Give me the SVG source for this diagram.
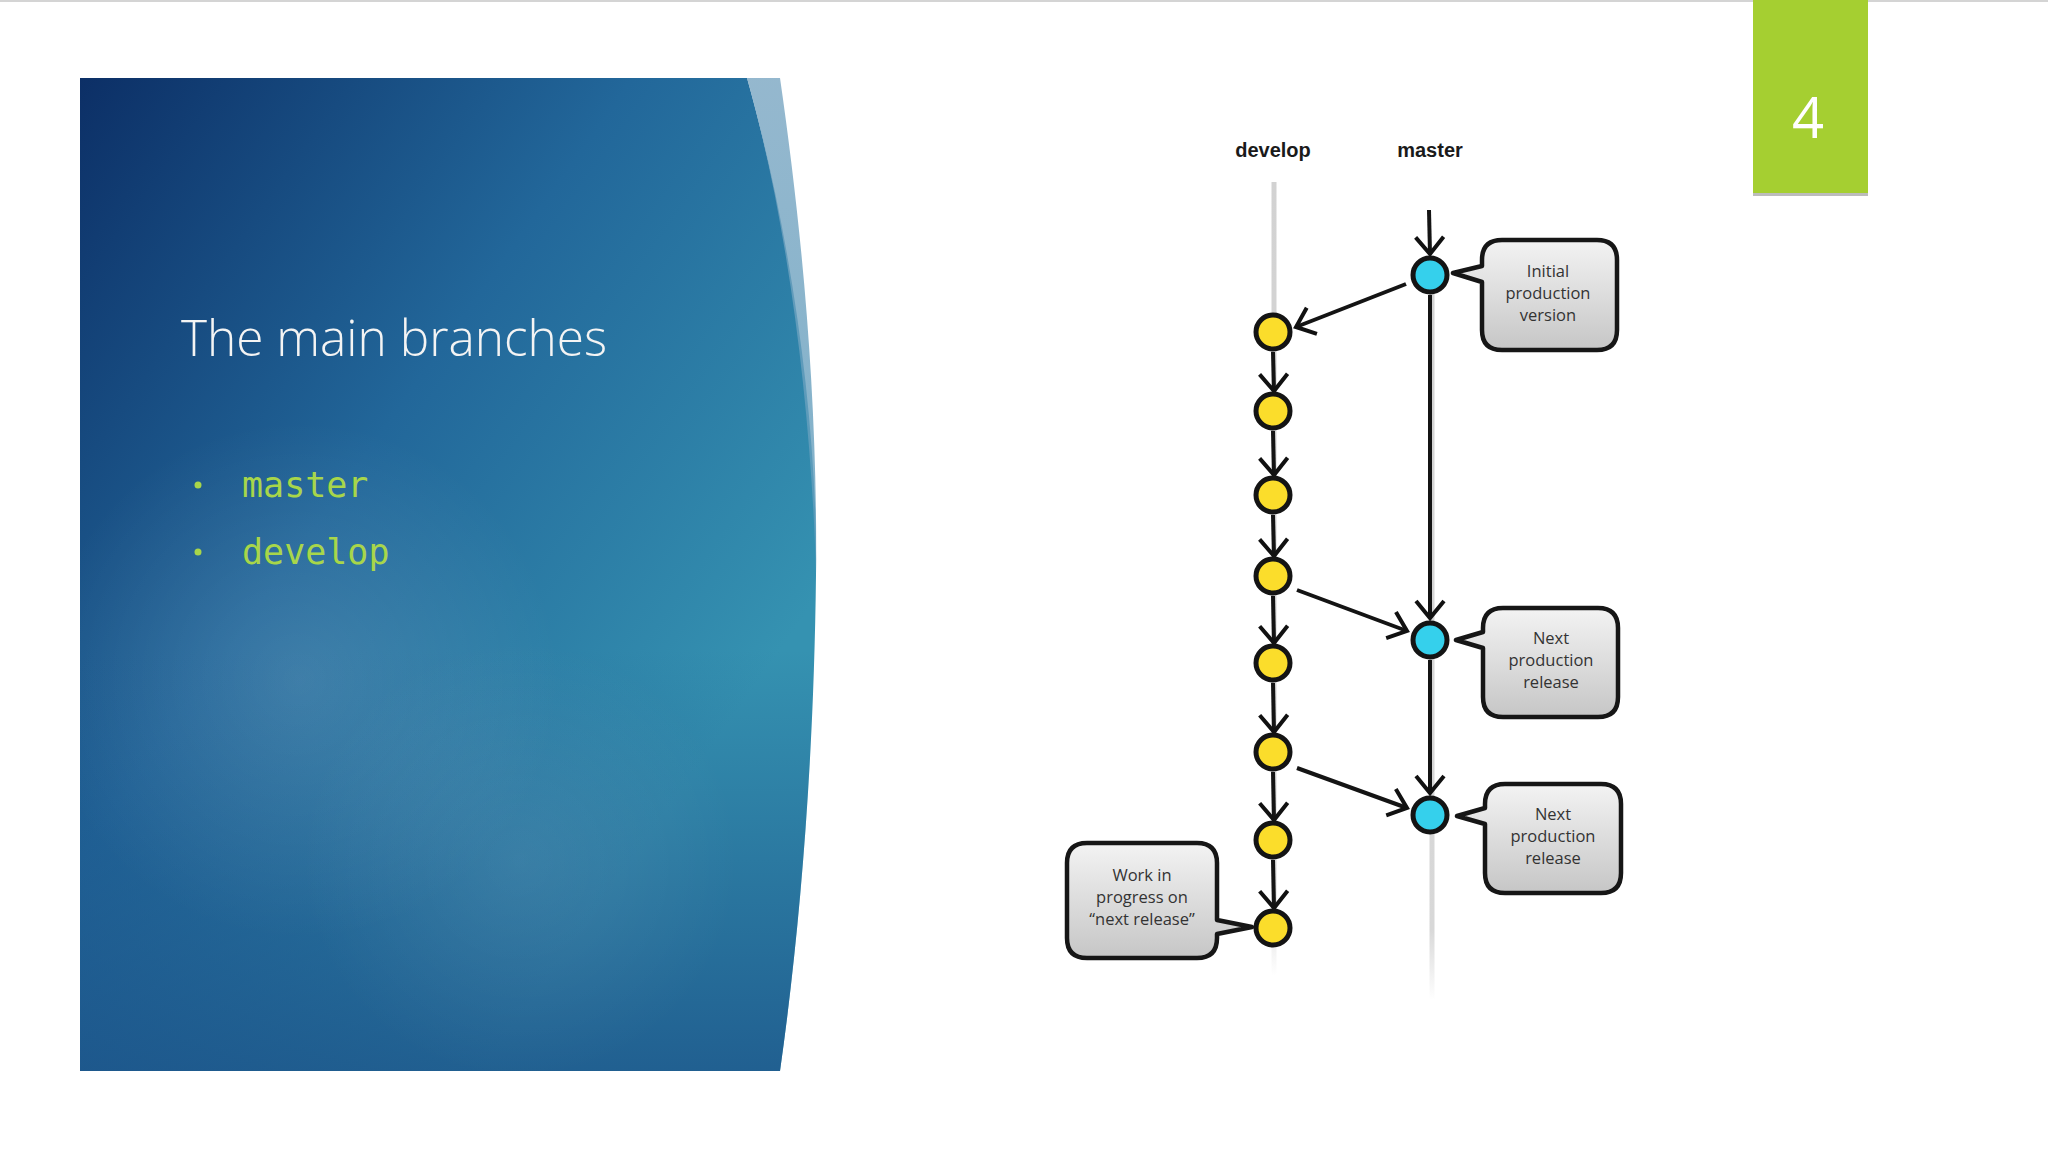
<svg xmlns="http://www.w3.org/2000/svg" width="2048" height="1152" viewBox="0 0 2048 1152">
<defs>
  <linearGradient id="panelG" gradientUnits="userSpaceOnUse" x1="80" y1="78" x2="816" y2="600">
    <stop offset="0" stop-color="#0c2f66"/>
    <stop offset="0.5" stop-color="#22679a"/>
    <stop offset="1" stop-color="#3592b1"/>
  </linearGradient>
  <linearGradient id="panelBottom" gradientUnits="userSpaceOnUse" x1="0" y1="650" x2="0" y2="1071">
    <stop offset="0" stop-color="#1a4f86" stop-opacity="0"/>
    <stop offset="1" stop-color="#1a4f86" stop-opacity="0.75"/>
  </linearGradient>
  <radialGradient id="glow1" gradientUnits="userSpaceOnUse" cx="300" cy="680" r="260">
    <stop offset="0" stop-color="#ffffff" stop-opacity="0.12"/>
    <stop offset="1" stop-color="#ffffff" stop-opacity="0"/>
  </radialGradient>
  <radialGradient id="glow2" gradientUnits="userSpaceOnUse" cx="520" cy="860" r="220">
    <stop offset="0" stop-color="#ffffff" stop-opacity="0.08"/>
    <stop offset="1" stop-color="#ffffff" stop-opacity="0"/>
  </radialGradient>
  <linearGradient id="bandG" gradientUnits="userSpaceOnUse" x1="0" y1="78" x2="0" y2="575">
    <stop offset="0" stop-color="#7aa6c2"/>
    <stop offset="1" stop-color="#5f9dbc"/>
  </linearGradient>
  <linearGradient id="calloutG" x1="0" y1="0" x2="0" y2="1">
    <stop offset="0" stop-color="#f3f3f3"/>
    <stop offset="1" stop-color="#c6c6c6"/>
  </linearGradient>
  <linearGradient id="fadeDev" gradientUnits="userSpaceOnUse" x1="0" y1="182" x2="0" y2="975">
    <stop offset="0" stop-color="#d2d2d2"/>
    <stop offset="0.9" stop-color="#d8d8d8"/>
    <stop offset="1" stop-color="#d8d8d8" stop-opacity="0"/>
  </linearGradient>
  <linearGradient id="fadeMas" gradientUnits="userSpaceOnUse" x1="0" y1="290" x2="0" y2="1000">
    <stop offset="0" stop-color="#d2d2d2"/>
    <stop offset="0.9" stop-color="#d8d8d8"/>
    <stop offset="1" stop-color="#d8d8d8" stop-opacity="0"/>
  </linearGradient>
  <marker id="vhead" markerUnits="userSpaceOnUse" viewBox="-20 -17 23 34" refX="0" refY="0" markerWidth="23" markerHeight="34" orient="auto" overflow="visible">
    <path d="M-17 -14 L0 0 L-17 14" fill="none" stroke="#111" stroke-width="4" stroke-linejoin="miter"/>
  </marker>
  <style>
    .title { font-family: "Open Sans", "Noto Sans", sans-serif; font-weight: 300; font-size: 50px; fill: #f4f4f4; }
    .bullet { font-family: "DejaVu Sans Mono", "Liberation Mono", monospace; font-size: 35px; fill: #a8d64a; }
    .dot { fill: #a8d64a; }
    .branch { font-family: "Liberation Sans", Arial, sans-serif; font-weight: bold; font-size: 20px; fill: #1a1a1a; text-anchor: middle; }
    .ctext { font-family: "Open Sans", "Noto Sans", sans-serif; font-size: 16.5px; fill: #333; text-anchor: middle; }
    .callout { fill: url(#calloutG); stroke: #161616; stroke-width: 4.5; stroke-linejoin: round; }
    .dev { fill: #fbdd2b; stroke: #141414; stroke-width: 5; }
    .mas { fill: #35d0ec; stroke: #141414; stroke-width: 5; }
    .edge { stroke: #141414; stroke-width: 4; fill: none; marker-end: url(#vhead); }
    .num { font-family: "Open Sans", "Noto Sans", sans-serif; font-size: 56px; fill: #ffffff; text-anchor: middle; }
  </style>
</defs>

<rect x="0" y="0" width="2048" height="1152" fill="#ffffff"/>
<rect x="0" y="0" width="2048" height="2" fill="#d4d4d4"/>

<!-- left panel -->
<g id="panel">
  <path d="M80 78 H747 C790 230 818 420 816 575 C814 760 800 930 780 1071 H80 Z" fill="url(#panelG)"/>
  <path d="M80 78 H747 C790 230 818 420 816 575 C814 760 800 930 780 1071 H80 Z" fill="url(#panelBottom)"/>
  <path d="M80 78 H747 C790 230 818 420 816 575 C814 760 800 930 780 1071 H80 Z" fill="url(#glow1)"/>
  <path d="M80 78 H747 C790 230 818 420 816 575 C814 760 800 930 780 1071 H80 Z" fill="url(#glow2)"/>
  <path d="M747 78 H780 C802 230 818 400 816 575 C812 420 790 230 747 78 Z" fill="url(#bandG)" opacity="0.8"/>
  <text class="title" x="181" y="356" textLength="426" lengthAdjust="spacingAndGlyphs">The main branches</text>
  <circle class="dot" cx="198" cy="485" r="3.5"/>
  <text class="bullet" x="242" y="497">master</text>
  <circle class="dot" cx="198" cy="552" r="3.5"/>
  <text class="bullet" x="242" y="564">develop</text>
</g>

<!-- slide number -->
<g id="slide-number">
  <rect x="1753" y="0" width="115" height="196" fill="#8f8f8f" opacity="0.6"/>
  <rect x="1753" y="0" width="115" height="193" fill="#a5cf31"/>
  <text class="num" x="1808" y="138">4</text>
</g>

<!-- branch labels -->
<text class="branch" x="1273" y="157">develop</text>
<text class="branch" x="1430" y="157">master</text>

<!-- background branch lines -->
<line x1="1274" y1="182" x2="1274" y2="975" stroke="url(#fadeDev)" stroke-width="5"/>
<line x1="1432" y1="290" x2="1432" y2="1000" stroke="url(#fadeMas)" stroke-width="5"/>

<g id="connectors">
  <line class="edge" x1="1429" y1="210" x2="1430" y2="254"/>
  <line class="edge" x1="1406" y1="284" x2="1296" y2="327"/>
  <line class="edge" x1="1430" y1="295" x2="1430" y2="618"/>
  <line class="edge" x1="1430" y1="660" x2="1430" y2="793"/>
  <line class="edge" x1="1297" y1="590" x2="1407" y2="631"/>
  <line class="edge" x1="1297" y1="768" x2="1407" y2="808"/>
  <line class="edge" x1="1273" y1="352" x2="1274" y2="391"/>
  <line class="edge" x1="1273" y1="431" x2="1274" y2="475"/>
  <line class="edge" x1="1273" y1="515" x2="1274" y2="556"/>
  <line class="edge" x1="1273" y1="596" x2="1274" y2="643"/>
  <line class="edge" x1="1273" y1="683" x2="1274" y2="732"/>
  <line class="edge" x1="1273" y1="772" x2="1274" y2="820"/>
  <line class="edge" x1="1273" y1="860" x2="1274" y2="908"/>
</g>

<!-- develop commits -->
<g id="dev1"><circle class="dev" cx="1273" cy="332" r="17"/></g>
<g id="dev2"><circle class="dev" cx="1273" cy="411" r="17"/></g>
<g id="dev3"><circle class="dev" cx="1273" cy="495" r="17"/></g>
<g id="dev4"><circle class="dev" cx="1273" cy="576" r="17"/></g>
<g id="dev5"><circle class="dev" cx="1273" cy="663" r="17"/></g>
<g id="dev6"><circle class="dev" cx="1273" cy="752" r="17"/></g>
<g id="dev7"><circle class="dev" cx="1273" cy="840" r="17"/></g>
<g id="dev8"><circle class="dev" cx="1273" cy="928" r="17"/></g>

<!-- master commits -->
<g id="mas1"><circle class="mas" cx="1430" cy="275" r="17"/></g>
<g id="mas2"><circle class="mas" cx="1430" cy="640" r="17"/></g>
<g id="mas3"><circle class="mas" cx="1430" cy="815" r="17"/></g>

<!-- callouts -->
<g id="callout-initial">
  <path class="callout" d="M1502 240 H1597 Q1617 240 1617 260 V330 Q1617 350 1597 350 H1502 Q1482 350 1482 330 V282 L1453 273 L1482 266 V260 Q1482 240 1502 240 Z"/>
  <text class="ctext" x="1548" y="277">Initial</text>
  <text class="ctext" x="1548" y="299">production</text>
  <text class="ctext" x="1548" y="321">version</text>
</g>
<g id="callout-next1">
  <path class="callout" d="M1503 608 H1598 Q1618 608 1618 628 V697 Q1618 717 1598 717 H1503 Q1483 717 1483 697 V648 L1456 640 L1483 632 V628 Q1483 608 1503 608 Z"/>
  <text class="ctext" x="1551" y="644">Next</text>
  <text class="ctext" x="1551" y="666">production</text>
  <text class="ctext" x="1551" y="688">release</text>
</g>
<g id="callout-next2">
  <path class="callout" d="M1505 784 H1601 Q1621 784 1621 804 V873 Q1621 893 1601 893 H1505 Q1485 893 1485 873 V824 L1457 816 L1485 808 V804 Q1485 784 1505 784 Z"/>
  <text class="ctext" x="1553" y="820">Next</text>
  <text class="ctext" x="1553" y="842">production</text>
  <text class="ctext" x="1553" y="864">release</text>
</g>
<g id="callout-wip">
  <path class="callout" d="M1087 843 H1197 Q1217 843 1217 863 V920 L1252 927 L1217 934 V938 Q1217 958 1197 958 H1087 Q1067 958 1067 938 V863 Q1067 843 1087 843 Z"/>
  <text class="ctext" x="1142" y="881">Work in</text>
  <text class="ctext" x="1142" y="903">progress on</text>
  <text class="ctext" x="1142" y="925">“next release”</text>
</g>
</svg>
